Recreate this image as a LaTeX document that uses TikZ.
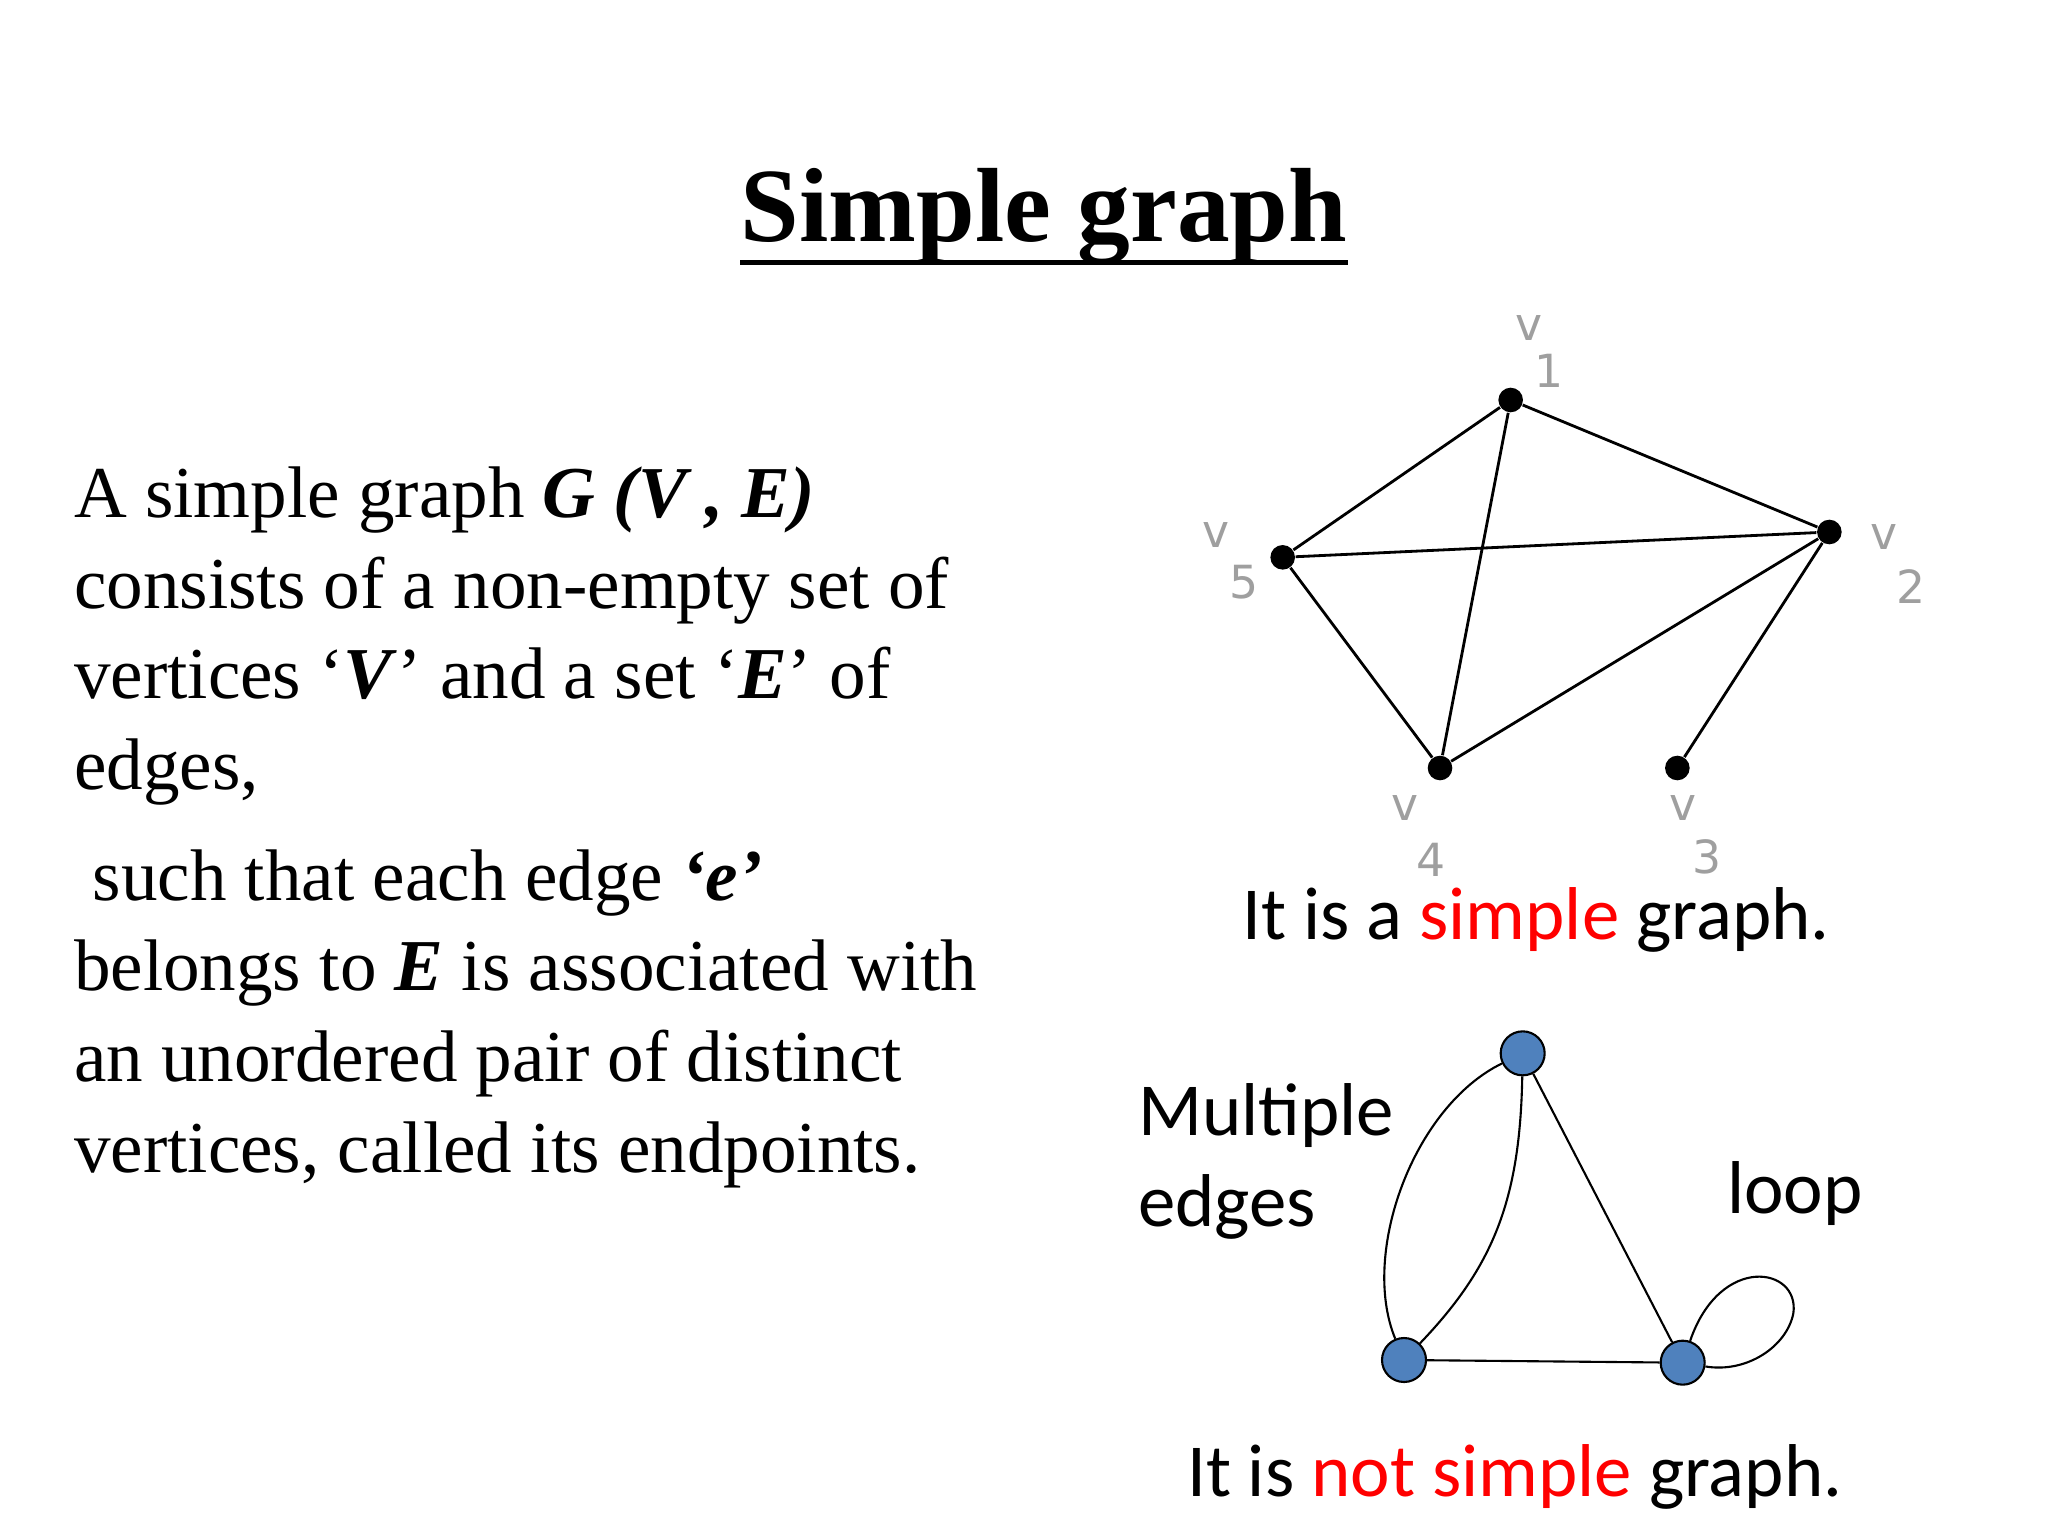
\documentclass[tikz,border=0pt]{standalone}
\usepackage{fontspec}
\setmainfont{Liberation Serif}
\newfontfamily\carlitofont{Carlito}
\newfontfamily\dvfont{DejaVu Sans}
\begin{document}
\begin{tikzpicture}[x=0.013333cm,y=-0.013333cm,
  body/.style={anchor=base west,inner sep=0pt,font=\fontsize{20.8}{25}\selectfont},
  lab/.style={inner sep=0pt,font=\carlitofont\fontsize{21.3}{26}\selectfont},
  vl/.style={inner sep=0pt,text=gray!75,font=\dvfont\fontsize{13}{15}\selectfont},
  dot/.style={circle,fill=black,inner sep=0pt,minimum size=7pt},
  bv/.style={circle,fill={rgb,255:red,79;green,129;blue,189},draw=black,line width=0.6pt,minimum size=0.44cm,inner sep=0pt},
  ed/.style={line width=0.8pt},
  ed2/.style={line width=0.6pt}]
\useasboundingbox (0,0) rectangle (1536,1152);
\node[anchor=base,inner sep=0pt,font=\bfseries\fontsize{30}{36}\selectfont] (title) at (783,181) {Simple graph};
\draw[line width=1.6pt] (title.south west) ++(0,-2) coordinate (u1) -- (u1 -| title.south east);
\node[body] (t1) at (55,388) {A simple graph \textbf{\textit{G (V , E)}}};
\node[body] (t2) at (55,456) {consists of a non-empty set of};
\node[body] (t3) at (55,524) {vertices `\textbf{\textit{V}}' and a set `\textbf{\textit{E}}' of};
\node[body] (t4) at (55,592) {edges,};
\node[body] (t5) at (69,675) {such that each edge \textbf{\textit{`e'}}};
\node[body] (t6) at (55,743) {belongs to \textbf{\textit{E}} is associated with};
\node[body] (t7) at (55,811) {an unordered pair of distinct};
\node[body] (t8) at (55,879) {vertices, called its endpoints.};
% graph 1
\node[dot] (v1) at (1133,300) {};
\node[dot] (v2) at (1372,399) {};
\node[dot] (v5) at (962,418) {};
\node[dot] (v4) at (1080,576) {};
\node[dot] (v3) at (1258,576) {};
\draw[ed] (v1)--(v2) (v1)--(v5) (v1)--(v4) (v5)--(v2) (v5)--(v4) (v4)--(v2) (v2)--(v3);
\node[vl] (l1a) at (1147,246) {v}; \node[vl] (l1b) at (1162,278) {1};
\node[vl] (l5a) at (912,401) {v}; \node[vl] (l5b) at (933,437) {5};
\node[vl] (l2a) at (1413,403) {v}; \node[vl] (l2b) at (1433,440) {2};
\node[vl] (l4a) at (1054,606) {v}; \node[vl] (l4b) at (1073,645) {4};
\node[vl] (l3a) at (1262,606) {v}; \node[vl] (l3b) at (1280,643) {3};
\node[lab] (s1) at (1152,690) {It is a \textcolor{red}{simple} graph.};
% graph 2
\node[bv] (a) at (1142,790) {};
\node[bv] (b) at (1053,1020) {};
\node[bv] (c) at (1262,1022) {};
\draw[ed2] (a)--(c) (b)--(c);
\draw[ed2] (a) .. controls (1060,830) and (1020,940) .. (b);
\draw[ed2] (a) .. controls (1140,900) and (1120,950) .. (b);
\draw[ed2] (c) .. controls (1290,940) and (1350,950) .. (1345,985) .. controls (1340,1010) and (1310,1030) .. (c);
\node[lab,anchor=west] (m1) at (853,837) {Multiple};
\node[lab,anchor=west] (m2) at (853,905) {edges};
\node[lab,anchor=west] (lp) at (1295,895) {loop};
\node[lab] (s2) at (1136,1108) {It is \textcolor{red}{not simple} graph.};
\end{tikzpicture}
\end{document}
